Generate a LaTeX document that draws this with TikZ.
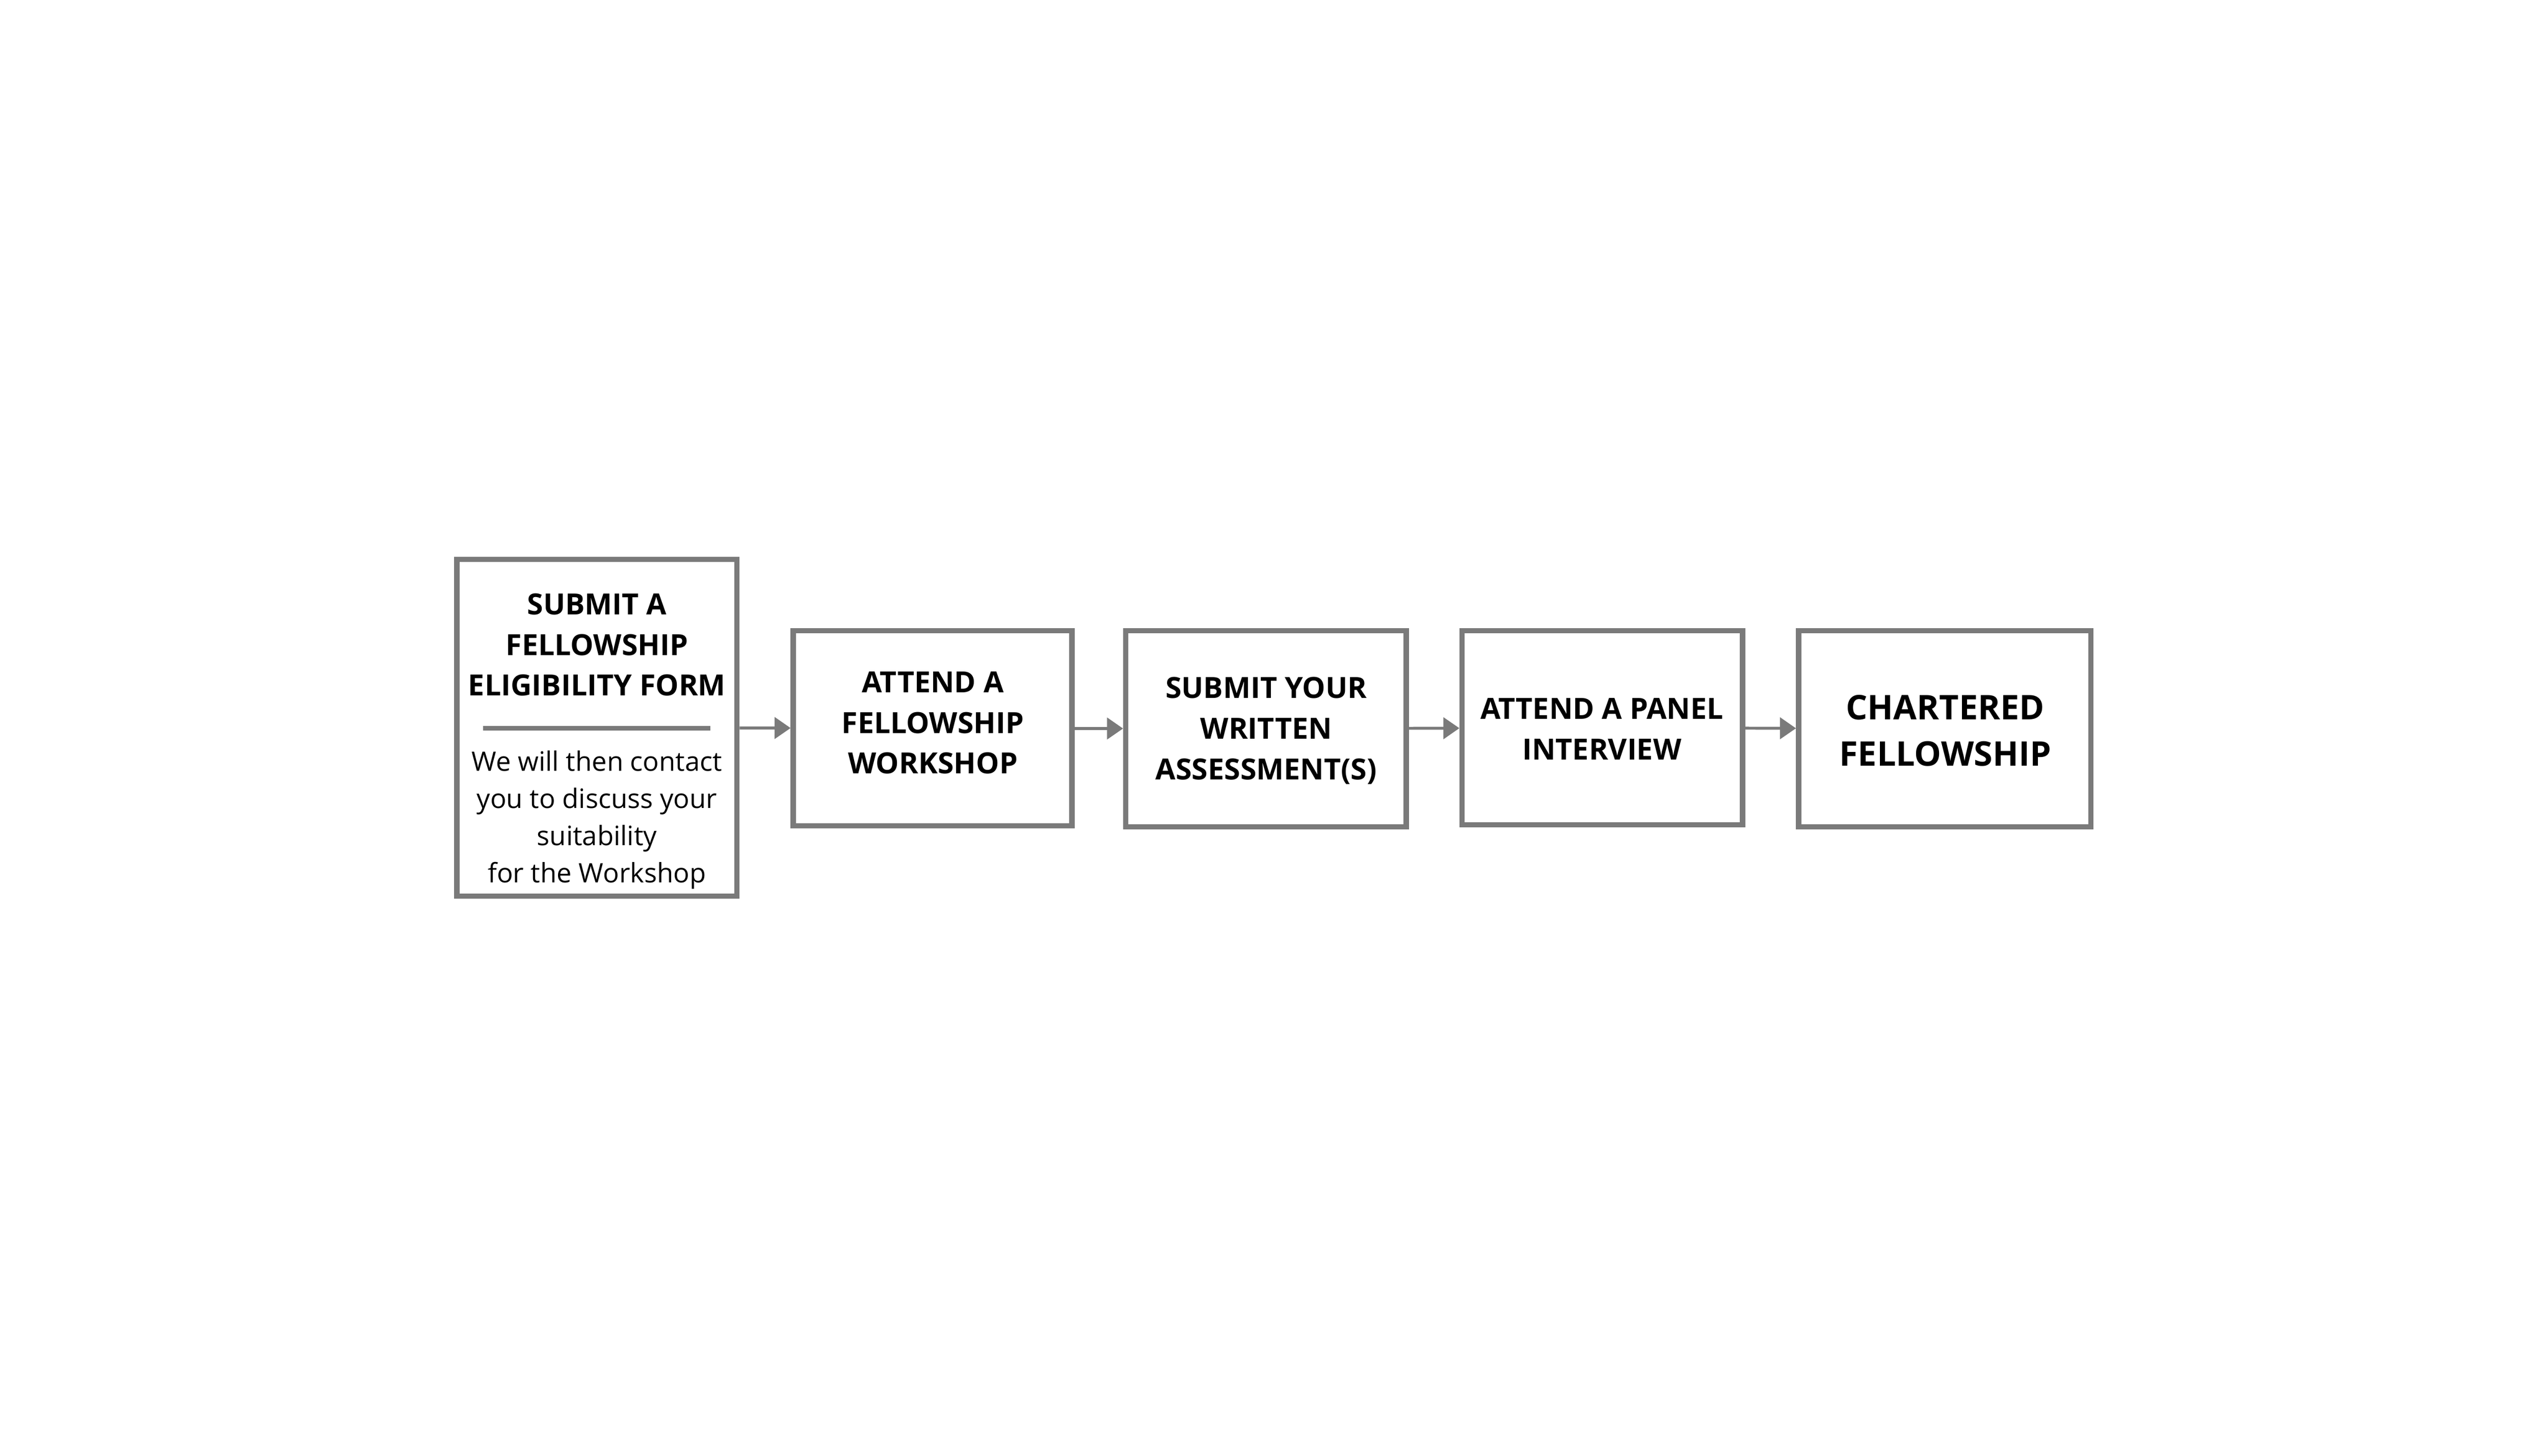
\documentclass[tikz,border=0pt]{standalone}
\usepackage{fontspec}
\setmainfont{Open Sans}
\usetikzlibrary{arrows.meta}
\definecolor{framegray}{RGB}{122,122,122}

\begin{document}
\begin{tikzpicture}[>={Triangle[length=3.3mm,width=4.4mm]},x=1cm,y=1cm,
  stepbox/.style={draw=framegray,line width=1.1mm,inner sep=0pt,minimum height=4.02cm},
  steptext/.style={align=center,inner sep=0pt,font=\fontsize{17.1pt}{23.8pt}\selectfont\bfseries},
  notetext/.style={align=center,inner sep=0pt,font=\fontsize{15.7pt}{21.8pt}\selectfont},
  flow/.style={->,draw=framegray,line width=0.6mm}]
\useasboundingbox (0,0) rectangle (52.5,30);
\node[stepbox,minimum width=5.77cm,minimum height=6.94cm] (form) at (12.30,15.00) {};
\node[stepbox,minimum width=5.74cm] (workshop) at (19.215,14.99) {};
\node[stepbox,minimum width=5.78cm,minimum height=4.04cm] (written) at (26.085,14.98) {};
\node[stepbox,minimum width=5.78cm,minimum height=4.00cm] (panel) at (33.015,15.00) {};
\node[stepbox,minimum width=6.02cm,minimum height=4.04cm] (chartered) at (40.07,14.98) {};
\node[steptext] (formtitle) at (12.30,16.71) {SUBMIT A\\FELLOWSHIP\\ELIGIBILITY FORM};
\draw [framegray,line width=0.9mm] (9.95,14.99)-- (14.64,14.99);
\node[notetext] (formnote) at (12.30,13.10) {We will then contact\\you to discuss your\\suitability\\for the Workshop};
\node[steptext] (workshoptext) at (19.22,15.10) {ATTEND A\\FELLOWSHIP\\WORKSHOP};
\node[steptext] (writtentext) at (26.09,14.94) {SUBMIT YOUR\\WRITTEN\\ASSESSMENT(S)};
\node[steptext] (paneltext) at (33.005,14.975) {ATTEND A PANEL\\INTERVIEW};
\node[steptext,font=\fontsize{19.9pt}{27.2pt}\selectfont\bfseries] (charteredtext) at (40.08,14.945) {CHARTERED\\FELLOWSHIP};
\draw [flow] (form) -- (workshop);
\draw [flow] (workshop) -- (written);
\draw [flow] (written) -- (panel);
\draw [flow] (panel) -- (chartered);
\end{tikzpicture}
\end{document}
